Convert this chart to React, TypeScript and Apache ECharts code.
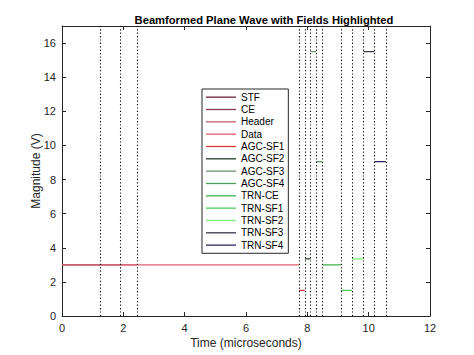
import React, { useEffect, useRef } from "react";
import * as echarts from "echarts";

const fieldNames = [
  "STF", "CE", "Header", "Data",
  "AGC-SF1", "AGC-SF2", "AGC-SF3", "AGC-SF4",
  "TRN-CE", "TRN-SF1", "TRN-SF2", "TRN-SF3", "TRN-SF4",
];
// field start / end times in microseconds
const fieldStart = [0, 1.24, 1.89, 0, 7.73, 7.92, 8.1, 8.29, 8.48, 9.1, 9.46, 9.83, 10.19];
const fieldEnd = [1.24, 1.89, 2.46, 7.73, 7.92, 8.1, 8.29, 8.48, 9.1, 9.46, 9.83, 10.19, 10.56];
// magnitude of each field in volts
const fieldMagnitude = [3, 3, 3, 3, 1.5, 3.35, 15.5, 9.05, 3, 1.5, 3.35, 15.5, 9.05];
// field boundary markers (dotted lines)
const boundaries = [1.24, 1.89, 2.46, 7.73, 7.92, 8.1, 8.29, 8.48, 9.1, 9.46, 9.83, 10.19, 10.56];
const fieldColors = [
  "#6b2035", "#8a3a50", "#c8606e", "#e06070",
  "#d83a40", "#243a24", "#6f8f70", "#4fa060",
  "#3cb44a", "#4cd05a", "#7af070", "#3a3a4a", "#28285e",
];
const xTicks = { min: 0, max: 12, interval: 2 };
const yTicks = { min: 0, max: 17, interval: 2 };

const font = "Liberation Sans, Arial, Helvetica, sans-serif";

export default function App() {
  const ref = useRef<HTMLDivElement>(null);
  useEffect(() => {
    if (!ref.current) return;
    const chart = echarts.init(ref.current, undefined, { renderer: "svg" });
    const series: any[] = fieldNames.map((name, i) => ({
      name,
      type: "line",
      symbol: "none",
      xAxisIndex: 0,
      yAxisIndex: 0,
      lineStyle: { width: 1.2, color: fieldColors[i] },
      itemStyle: { color: fieldColors[i] },
      data: [
        [fieldStart[i], fieldMagnitude[i]],
        [fieldEnd[i], fieldMagnitude[i]],
      ],
      z: 3,
    }));
    series.push({
      name: "bounds",
      type: "line",
      data: [],
      markLine: {
        silent: true,
        symbol: "none",
        label: { show: false },
        lineStyle: { color: "#000", type: [1.2, 2.2], width: 1.1 },
        data: boundaries.map((b) => ({ xAxis: b })),
      },
      z: 2,
    });
    const axisLine = { show: true, onZero: false, lineStyle: { color: "#262626", width: 1 } };
    const axisTick = { show: true, inside: true, length: 4, lineStyle: { color: "#262626" } };
    chart.setOption({
      animation: false,
      backgroundColor: "#fff",
      title: {
        text: "Beamformed Plane Wave with Fields Highlighted",
        left: 259,
        textAlign: "center",
        top: 9,
        textStyle: { fontFamily: font, fontSize: 11.2, fontWeight: "bold", color: "#000" },
      },
      legend: {
        data: fieldNames.map((n) => ({ name: n, icon: "rect" })),
        orient: "vertical",
        left: 202,
        top: 89,
        itemWidth: 30,
        itemHeight: 1.3,
        itemGap: 0,
        padding: [2, 4, 2, 4],
        backgroundColor: "#fff",
        borderColor: "#262626",
        borderWidth: 1,
        textStyle: { fontFamily: font, fontSize: 10, color: "#000", lineHeight: 12.33 },
      },
      grid: { left: 62, right: 44, top: 26, bottom: 39, containLabel: false },
      xAxis: [
        {
          type: "value",
          ...xTicks,
          name: "Time (microseconds)",
          nameLocation: "middle",
          nameGap: 21,
          nameMoveOverlap: false,
          nameTextStyle: { fontFamily: font, fontSize: 12, color: "#262626" },
          axisLabel: { fontFamily: font, fontSize: 11, color: "#262626", margin: 6 },
          axisLine,
          axisTick,
          splitLine: { show: false },
        },
        {
          type: "value",
          position: "top",
          ...xTicks,
          axisLabel: { show: false },
          axisLine,
          axisTick,
          splitLine: { show: false },
        },
      ],
      yAxis: [
        {
          type: "value",
          ...yTicks,
          name: "Magnitude (V)",
          nameLocation: "middle",
          nameGap: 20,
          nameMoveOverlap: false,
          nameTextStyle: { fontFamily: font, fontSize: 12, color: "#262626" },
          axisLabel: { fontFamily: font, fontSize: 11, color: "#262626", margin: 6, showMaxLabel: false },
          axisLine,
          axisTick,
          splitLine: { show: false },
        },
        {
          type: "value",
          position: "right",
          ...yTicks,
          axisLabel: { show: false },
          axisLine,
          axisTick,
          splitLine: { show: false },
        },
      ],
      series,
    });
    return () => chart.dispose();
  }, []);
  return <div ref={ref} style={{ width: 474, height: 355, position: "absolute", left: 0, top: 0 }} />;
}
